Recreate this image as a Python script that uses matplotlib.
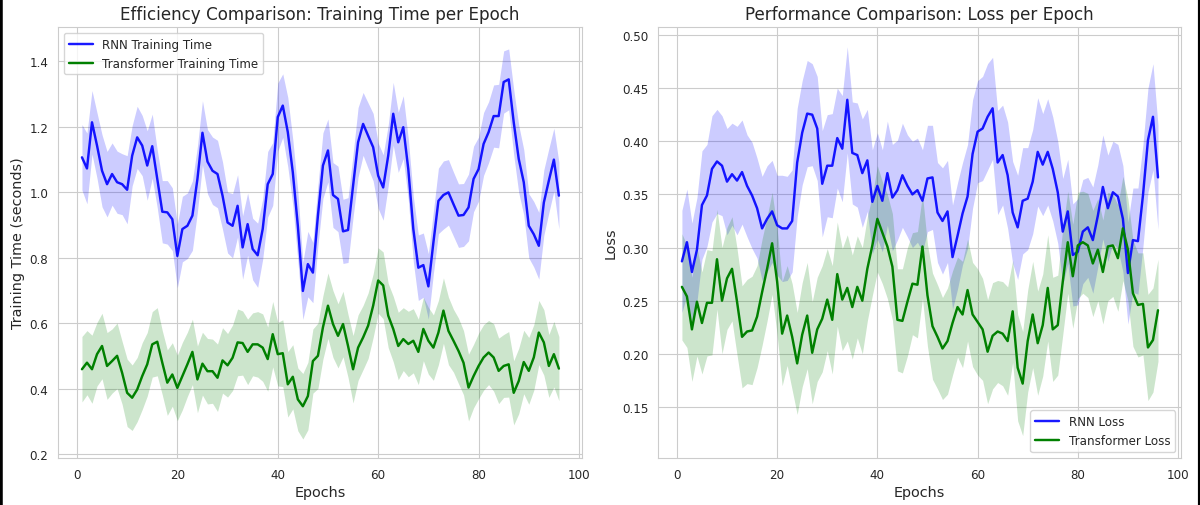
import matplotlib
matplotlib.use("Agg")
import matplotlib.pyplot as plt
import seaborn as sns
import numpy as np
from matplotlib.lines import Line2D

# ---------------- data ----------------
epochs = list(range(1, 97))

rnn_time = [1.106, 1.072, 1.213, 1.142, 1.065, 1.024, 1.055, 1.030, 1.024, 1.007,
            1.111, 1.167, 1.142, 1.081, 1.140, 1.040, 0.940, 0.938, 0.917, 0.805,
            0.887, 0.897, 0.928, 1.040, 1.181, 1.093, 1.065, 1.055, 0.989, 0.907,
            0.897, 0.958, 0.831, 0.902, 0.826, 0.807, 0.887, 1.024, 1.055, 1.229,
            1.264, 1.183, 1.060, 0.897, 0.698, 0.780, 0.754, 0.928, 1.081, 1.127,
            0.991, 0.979, 0.880, 0.884, 1.019, 1.152, 1.208, 1.172, 1.137, 1.050,
            1.014, 1.111, 1.239, 1.152, 1.198, 1.070, 0.887, 0.769, 0.777, 0.712,
            0.846, 0.973, 0.991, 0.999, 0.963, 0.928, 0.930, 0.953, 1.040, 1.070,
            1.147, 1.183, 1.232, 1.232, 1.336, 1.344, 1.213, 1.101, 1.030, 0.897,
            0.871, 0.836, 0.968, 1.035, 1.099, 0.989]

rnn_time_std = [0.100, 0.108, 0.097, 0.100, 0.110, 0.100, 0.095, 0.095, 0.093, 0.104,
                0.092, 0.095, 0.092, 0.106, 0.098, 0.088, 0.095, 0.097, 0.096, 0.097,
                0.100, 0.100, 0.106, 0.100, 0.098, 0.098, 0.103, 0.103, 0.103, 0.093,
                0.098, 0.095, 0.097, 0.095, 0.094, 0.098, 0.092, 0.100, 0.096, 0.104,
                0.097, 0.106, 0.100, 0.106, 0.087, 0.100, 0.092, 0.092, 0.100, 0.096,
                0.099, 0.100, 0.098, 0.099, 0.096, 0.106, 0.096, 0.100, 0.103, 0.100,
                0.100, 0.093, 0.096, 0.092, 0.096, 0.093, 0.100, 0.100, 0.098, 0.100,
                0.095, 0.100, 0.104, 0.100, 0.098, 0.097, 0.096, 0.102, 0.100, 0.098,
                0.096, 0.093, 0.095, 0.097, 0.095, 0.093, 0.100, 0.103, 0.100, 0.098,
                0.100, 0.102, 0.100, 0.098, 0.096, 0.102]

trans_time = [0.459, 0.479, 0.459, 0.505, 0.530, 0.469, 0.484, 0.500, 0.448, 0.387,
              0.372, 0.397, 0.438, 0.474, 0.535, 0.543, 0.479, 0.418, 0.443, 0.402,
              0.438, 0.474, 0.512, 0.428, 0.476, 0.453, 0.453, 0.433, 0.486, 0.471,
              0.494, 0.541, 0.539, 0.512, 0.535, 0.535, 0.525, 0.490, 0.566, 0.505,
              0.508, 0.413, 0.436, 0.367, 0.346, 0.377, 0.484, 0.500, 0.587, 0.653,
              0.597, 0.561, 0.597, 0.530, 0.459, 0.525, 0.556, 0.592, 0.653, 0.730,
              0.715, 0.623, 0.582, 0.530, 0.551, 0.536, 0.546, 0.512, 0.582, 0.546,
              0.525, 0.571, 0.638, 0.576, 0.546, 0.515, 0.479, 0.403, 0.438, 0.469,
              0.495, 0.510, 0.495, 0.454, 0.469, 0.474, 0.387, 0.423, 0.481, 0.454,
              0.495, 0.571, 0.541, 0.469, 0.505, 0.461]

trans_time_std = [0.100, 0.098, 0.104, 0.097, 0.100, 0.102, 0.098, 0.100, 0.096, 0.103,
                  0.100, 0.098, 0.102, 0.097, 0.100, 0.104, 0.098, 0.100, 0.097, 0.100,
                  0.103, 0.098, 0.100, 0.102, 0.096, 0.100, 0.098, 0.103, 0.100, 0.097,
                  0.100, 0.102, 0.098, 0.100, 0.096, 0.100, 0.103, 0.098, 0.100, 0.097,
                  0.102, 0.100, 0.098, 0.096, 0.100, 0.103, 0.098, 0.100, 0.097, 0.100,
                  0.102, 0.098, 0.100, 0.096, 0.103, 0.100, 0.098, 0.100, 0.097, 0.100,
                  0.102, 0.098, 0.100, 0.103, 0.096, 0.100, 0.098, 0.100, 0.097, 0.102,
                  0.100, 0.098, 0.100, 0.103, 0.096, 0.100, 0.098, 0.102, 0.097, 0.100,
                  0.100, 0.098, 0.103, 0.100, 0.096, 0.100, 0.098, 0.100, 0.097, 0.102,
                  0.100, 0.098, 0.100, 0.096, 0.100, 0.098]

rnn_loss = [0.287, 0.305, 0.277, 0.298, 0.340, 0.349, 0.374, 0.381, 0.377, 0.362,
            0.369, 0.363, 0.371, 0.358, 0.349, 0.337, 0.318, 0.327, 0.334, 0.321,
            0.318, 0.318, 0.325, 0.380, 0.408, 0.426, 0.425, 0.412, 0.360, 0.377,
            0.377, 0.403, 0.393, 0.439, 0.389, 0.387, 0.370, 0.382, 0.343, 0.358,
            0.344, 0.370, 0.347, 0.354, 0.368, 0.358, 0.350, 0.354, 0.344, 0.365,
            0.366, 0.333, 0.325, 0.334, 0.291, 0.311, 0.332, 0.348, 0.388, 0.409,
            0.412, 0.423, 0.431, 0.380, 0.387, 0.368, 0.333, 0.319, 0.344, 0.346,
            0.362, 0.390, 0.378, 0.390, 0.374, 0.352, 0.315, 0.334, 0.293, 0.296,
            0.315, 0.319, 0.307, 0.330, 0.357, 0.337, 0.352, 0.348, 0.327, 0.276,
            0.307, 0.306, 0.349, 0.401, 0.423, 0.366]

rnn_loss_std = [0.048, 0.050, 0.046, 0.049, 0.051, 0.048, 0.050, 0.049, 0.047, 0.050,
                0.048, 0.051, 0.049, 0.048, 0.050, 0.047, 0.049, 0.050, 0.048, 0.047,
                0.050, 0.049, 0.048, 0.051, 0.049, 0.050, 0.048, 0.049, 0.050, 0.048,
                0.049, 0.047, 0.050, 0.050, 0.048, 0.049, 0.051, 0.048, 0.049, 0.050,
                0.048, 0.049, 0.050, 0.047, 0.049, 0.048, 0.050, 0.049, 0.048, 0.050,
                0.049, 0.047, 0.050, 0.048, 0.049, 0.050, 0.048, 0.049, 0.051, 0.048,
                0.049, 0.050, 0.048, 0.049, 0.047, 0.050, 0.048, 0.049, 0.050, 0.048,
                0.049, 0.051, 0.048, 0.050, 0.049, 0.048, 0.050, 0.049, 0.048, 0.050,
                0.049, 0.047, 0.050, 0.048, 0.049, 0.050, 0.048, 0.049, 0.050, 0.048,
                0.049, 0.050, 0.048, 0.049, 0.050, 0.049]

trans_loss = [0.263, 0.254, 0.223, 0.249, 0.229, 0.248, 0.248, 0.289, 0.250, 0.271,
              0.280, 0.249, 0.216, 0.221, 0.222, 0.235, 0.258, 0.280, 0.304, 0.268,
              0.219, 0.236, 0.216, 0.191, 0.218, 0.236, 0.201, 0.223, 0.233, 0.251,
              0.232, 0.275, 0.251, 0.262, 0.244, 0.263, 0.250, 0.280, 0.302, 0.327,
              0.314, 0.301, 0.282, 0.232, 0.231, 0.249, 0.266, 0.265, 0.301, 0.255,
              0.226, 0.216, 0.205, 0.212, 0.229, 0.244, 0.237, 0.260, 0.237, 0.230,
              0.223, 0.202, 0.217, 0.221, 0.219, 0.212, 0.240, 0.187, 0.172, 0.212,
              0.237, 0.210, 0.227, 0.262, 0.223, 0.227, 0.268, 0.305, 0.273, 0.302,
              0.305, 0.302, 0.285, 0.298, 0.277, 0.301, 0.302, 0.290, 0.318, 0.298,
              0.257, 0.246, 0.247, 0.206, 0.213, 0.241]

trans_loss_std = [0.050, 0.048, 0.049, 0.051, 0.048, 0.050, 0.049, 0.047, 0.050, 0.048,
                  0.049, 0.050, 0.048, 0.049, 0.051, 0.048, 0.050, 0.049, 0.048, 0.050,
                  0.049, 0.047, 0.050, 0.048, 0.049, 0.050, 0.048, 0.049, 0.050, 0.048,
                  0.051, 0.049, 0.048, 0.050, 0.049, 0.048, 0.050, 0.049, 0.047, 0.050,
                  0.048, 0.049, 0.050, 0.048, 0.049, 0.051, 0.048, 0.050, 0.049, 0.048,
                  0.050, 0.049, 0.048, 0.050, 0.049, 0.047, 0.050, 0.048, 0.049, 0.050,
                  0.048, 0.049, 0.050, 0.048, 0.049, 0.051, 0.048, 0.050, 0.049, 0.048,
                  0.050, 0.049, 0.048, 0.050, 0.049, 0.047, 0.050, 0.048, 0.049, 0.050,
                  0.048, 0.049, 0.050, 0.048, 0.049, 0.051, 0.048, 0.050, 0.049, 0.048,
                  0.050, 0.049, 0.048, 0.050, 0.049, 0.048]

time_yticks = [0.2, 0.4, 0.6, 0.8, 1.0, 1.2, 1.4]
loss_yticks = [0.15, 0.20, 0.25, 0.30, 0.35, 0.40, 0.45, 0.50]
x_ticks = [0, 20, 40, 60, 80, 100]

# ---------------- style ----------------
sns.set_style("whitegrid")
plt.rcParams['font.family'] = ['DejaVu Sans']
plt.rcParams['axes.edgecolor'] = '#cccccc'
plt.rcParams['grid.color'] = '#cccccc'

S = 0.86  # overall text scale of the reference

fig = plt.figure(figsize=(12, 5.06), dpi=100)
ax1 = fig.add_axes([0.0483, 0.0929, 0.4367, 0.8518])
ax2 = fig.add_axes([0.5483, 0.0929, 0.4359, 0.8518])

x = np.array(epochs)


def draw(ax, y, s, color, label):
    y = np.array(y)
    s = np.array(s)
    ax.plot(x, y, color=color, lw=1.75, label=label, alpha=0.9 if color == 'blue' else 1.0)
    ax.fill_between(x, y - s, y + s, color=color, alpha=0.2, lw=0)


draw(ax1, rnn_time, rnn_time_std, 'blue', 'RNN Training Time')
draw(ax1, trans_time, trans_time_std, 'green', 'Transformer Training Time')
draw(ax2, rnn_loss, rnn_loss_std, 'blue', 'RNN Loss')
draw(ax2, trans_loss, trans_loss_std, 'green', 'Transformer Loss')

ax1.set_xlim(-3.78, 100.6)
ax2.set_xlim(-3.78, 100.6)
ax1.set_ylim(0.188, 1.504)
ax2.set_ylim(0.102, 0.5075)
ax1.set_xticks(x_ticks)
ax2.set_xticks(x_ticks)
ax1.set_yticks(time_yticks)
ax2.set_yticks(loss_yticks)
ax1.set_yticklabels([f"{v:.1f}" for v in time_yticks])
ax2.set_yticklabels([f"{v:.2f}" for v in loss_yticks])

for ax in (ax1, ax2):
    ax.tick_params(labelsize=10 * S, colors='#262626', pad=3.5)
    for sp in ax.spines.values():
        sp.set_color('#cccccc')

ax1.set_title("Efficiency Comparison: Training Time per Epoch", fontsize=14 * S, color='#262626')
ax2.set_title("Performance Comparison: Loss per Epoch", fontsize=14 * S, color='#262626')
ax1.set_xlabel("Epochs", fontsize=12 * S, color='#262626', labelpad=3)
ax2.set_xlabel("Epochs", fontsize=12 * S, color='#262626', labelpad=3)
ax1.set_ylabel("Training Time (seconds)", fontsize=12 * S, color='#262626', labelpad=3)
ax2.set_ylabel("Loss", fontsize=12 * S, color='#262626', labelpad=3)

ax1.legend(loc='upper left', fontsize=10 * S)
ax2.legend(loc='lower right', fontsize=10 * S)

fig.add_artist(Line2D([0, 0], [0, 1], transform=fig.transFigure, color='black', lw=4))
fig.add_artist(Line2D([1, 1], [0, 1], transform=fig.transFigure, color='black', lw=3))

fig.savefig("out.png", dpi=100)
